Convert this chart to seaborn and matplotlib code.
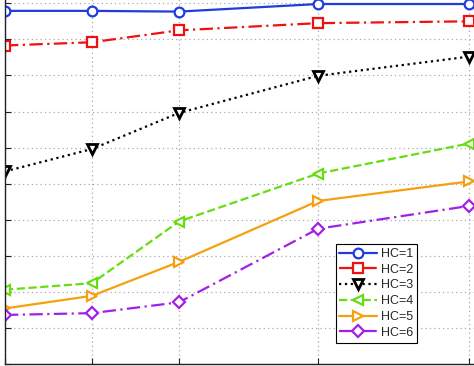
"""Hop-count comparison line chart (cropped MATLAB-style figure)."""

import matplotlib
matplotlib.use("Agg")
import matplotlib.pyplot as plt
import seaborn as sns
import pandas as pd

# x positions of the five measurement points
x_vals = [1, 2, 3, 4.6, 6.33]

hc1 = [9.79, 9.79, 9.77, 9.98, 9.98]
hc2 = [8.83, 8.92, 9.25, 9.45, 9.50]
hc3 = [5.34, 5.96, 6.96, 7.99, 8.52]
hc4 = [2.06, 2.24, 3.95, 5.28, 6.11]
hc5 = [1.54, 1.89, 2.83, 4.52, 5.06]
hc6 = [1.36, 1.41, 1.71, 3.75, 4.38]

labels  = ["HC=1", "HC=2", "HC=3", "HC=4", "HC=5", "HC=6"]
colors  = ["#1f3ce0", "#f01010", "#000000", "#66dd11", "#f5a010", "#a020e8"]
markers = ["o", "s", "v", "<", ">", "D"]
styles  = ["-", (0, (6, 2, 1, 2)), ":", "--", "-", (0, (6, 2, 1, 2))]
msizes  = [7, 6.5, 7.5, 7.5, 7.5, 6]

sns.set_style("white")
plt.rcParams["font.family"] = ["Liberation Sans", "DejaVu Sans"]

fig = plt.figure(figsize=(4.74, 3.66), dpi=100)
# axes deliberately runs past the top/right edge: the reference is a crop
ax = fig.add_axes([5 / 474, 2 / 366, 487 / 474, 10.5 * 36.07 / 366])

series = [hc1, hc2, hc3, hc4, hc5, hc6]
for vals, lab, c, m, ls, ms in zip(series, labels, colors, markers, styles, msizes):
    df = pd.DataFrame({"x": x_vals, "y": vals})
    sns.lineplot(data=df, x="x", y="y", ax=ax, color=c, marker=m,
                 linestyle=ls, lw=1.6, markersize=ms,
                 markerfacecolor="white", markeredgecolor=c,
                 mew=2.0 if m == "v" else 1.6,
                 label=lab, legend=False)

ax.set_xlim(1, 6.6)
ax.set_ylim(0, 10.5)
ax.set_xticks(x_vals)
ax.set_yticks(range(0, 11))
ax.set_xticklabels([])
ax.set_yticklabels([])
ax.set_xlabel("")
ax.set_ylabel("")
ax.tick_params(direction="in", length=4, width=0.8, color="#222222",
               left=True, bottom=True)
ax.grid(True, linestyle=(0, (1, 2.5)), color="#aaaaaa", lw=0.9)
for s in ax.spines.values():
    s.set_color("#222222")
    s.set_linewidth(1.0)

leg = ax.legend(loc="lower right", bbox_to_anchor=(416.5 / 474, 23.5 / 366),
                bbox_transform=fig.transFigure, borderaxespad=0,
                fontsize=9, fancybox=False, framealpha=1,
                edgecolor="black", handlelength=3.0, labelspacing=0.3,
                handletextpad=0.3, borderpad=0.3)
leg.get_frame().set_linewidth(0.8)

fig.savefig("out.png", dpi=100)
